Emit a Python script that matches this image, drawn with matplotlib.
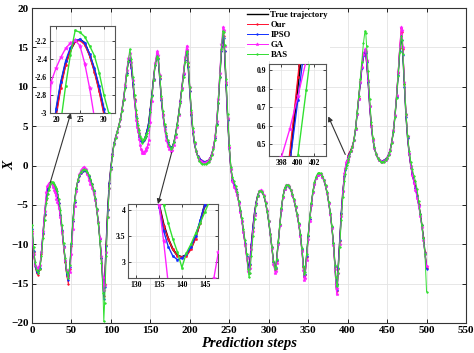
import matplotlib
matplotlib.use('Agg')
import matplotlib.pyplot as plt

plt.rcParams['font.family'] = ['Liberation Serif', 'DejaVu Serif']
plt.rcParams['font.weight'] = 'bold'

# ---------------- data ----------------
steps = [0, 2, 4, 6, 8, 10, 12, 14, 16, 18,
         19, 20, 21, 22, 23, 24, 25, 26, 27, 28, 29, 30, 31, 32,
         34, 36, 38, 40, 42, 44, 46, 48, 50, 52, 54, 56, 58, 60, 62, 64, 66, 68, 70, 72, 74, 76, 78, 80, 82, 84, 86, 88, 90,
         91, 92, 94, 96, 98, 100, 102, 104, 106, 108, 110, 112, 114, 116, 118, 120, 122, 124, 126, 128, 130, 132,
         133, 134, 135, 136, 137, 138, 139, 140, 141, 142, 143, 144, 145, 146, 147, 148,
         150, 152, 154, 156, 158, 159, 160, 162, 164, 166, 168, 170, 172, 174, 176, 178, 180, 182, 184, 186, 188, 190, 192, 194, 196, 197,
         198, 200, 202, 204, 206, 208, 210, 212, 214, 216, 218, 220, 222, 224, 226, 228, 230, 232, 234, 236, 238, 240, 242, 243,
         244, 246, 248, 250, 252, 254, 256, 258, 260, 262, 264, 266, 268, 270, 272, 274, 275,
         276, 278, 280, 282, 284, 286, 288, 290, 292, 294, 296, 298, 300, 302, 304, 306, 308, 309,
         310, 312, 314, 316, 318, 320, 322, 324, 326, 328, 330, 332, 334, 336, 338, 340, 342, 344, 345,
         346, 348, 350, 352, 354, 356, 358, 360, 362, 364, 366, 368, 370, 372, 374, 376, 378, 380, 382, 384, 385, 386, 387,
         388, 390, 392, 394, 396, 397, 398, 399, 400, 401,
         402, 404, 406, 408, 410, 412, 414, 416, 418, 420, 422, 423,
         424, 426, 428, 430, 432, 434, 436, 438, 440, 442, 444, 446, 448, 450, 452, 454, 456, 458, 460, 462, 464, 466, 468, 469,
         470, 472, 474, 476, 478, 480, 482, 484, 486, 488, 490, 492, 494, 496, 498, 500]

true_traj = [-8.0, -10.8, -12.6, -13.4, -13.6, -12.9, -11.0, -8.6, -6.2, -4.3,
             -3.5, -3.0, -2.68, -2.45, -2.3, -2.2, -2.18, -2.22, -2.35, -2.52, -2.73, -2.98, -3.3, -3.7,
             -4.8, -6.3, -8.2, -10.2, -12.0, -13.6, -14.4, -12.8, -10.0, -7.0, -4.6, -3.0, -2.0, -1.3, -0.9, -0.65, -0.6, -0.7, -0.95, -1.3, -1.8, -2.4, -3.2, -4.2, -5.5, -7.2, -9.3, -11.8, -14.8,
             -16.5, -15.0, -10.0, -5.5, -2.2, -0.2, 1.5, 2.8, 3.6, 4.3, 5.0, 5.9, 7.0, 8.4, 10.0, 11.8, 13.2, 13.6, 12.4, 10.3, 8.3, 6.4,
             5.5, 4.7, 4.1, 3.72, 3.45, 3.25, 3.13, 3.1, 3.14, 3.27, 3.48, 3.76, 4.1, 4.5, 4.95, 5.5,
             7.2, 9.0, 11.0, 12.8, 13.8, 14.0, 13.5, 11.0, 8.3, 6.4, 4.9, 3.8, 3.0, 2.5, 2.3, 2.4, 3.0, 4.0, 5.2, 6.6, 8.2, 9.9, 11.6, 13.4, 14.6, 14.2,
             12.5, 9.4, 6.4, 4.2, 2.7, 1.8, 1.2, 0.9, 0.7, 0.55, 0.5, 0.5, 0.55, 0.7, 1.0, 1.5, 2.3, 3.5, 5.3, 8.0, 11.2, 14.5, 16.5, 16.2,
             14.5, 10.2, 5.8, 2.2, -0.4, -1.8, -2.5, -3.0, -3.6, -4.6, -5.8, -7.0, -8.4, -9.9, -11.4, -12.8, -13.0,
             -12.4, -10.0, -7.8, -6.0, -4.7, -3.8, -3.3, -3.2, -3.4, -3.9, -4.7, -5.8, -7.1, -8.7, -10.4, -12.2, -13.2, -13.0,
             -12.0, -9.8, -7.5, -5.5, -4.0, -3.0, -2.55, -2.5, -2.7, -3.1, -3.7, -4.4, -5.3, -6.3, -7.4, -8.8, -10.6, -12.8, -14.0,
             -13.8, -11.5, -9.0, -6.8, -4.9, -3.4, -2.3, -1.6, -1.2, -1.05, -1.1, -1.4, -1.9, -2.6, -3.5, -4.7, -6.1, -7.8, -9.9, -12.8, -14.5, -15.8, -15.0,
             -13.0, -9.5, -6.0, -3.2, -1.3, -0.55, 0.0, 0.4, 0.82, 1.2,
             1.5, 1.9, 2.4, 3.2, 4.6, 6.5, 8.5, 10.5, 12.4, 13.9, 14.6, 14.3,
             13.2, 10.6, 7.5, 5.0, 3.3, 2.2, 1.5, 1.0, 0.75, 0.6, 0.58, 0.65, 0.8, 1.0, 1.4, 2.0, 3.0, 4.4, 6.3, 8.7, 11.5, 14.5, 16.5, 16.0,
             14.0, 10.0, 6.2, 3.5, 1.5, 0.0, -1.1, -2.0, -2.8, -3.8, -4.9, -6.1, -7.5, -9.1, -11.0, -13.0]

our_pred = [-8.3, -11.0, -12.8, -13.7, -13.9, -13.1, -11.2, -8.7, -6.3, -4.4,
            -3.6, -3.05, -2.72, -2.47, -2.3, -2.2, -2.19, -2.24, -2.36, -2.54, -2.76, -3.02, -3.33, -3.72,
            -4.8, -6.3, -8.3, -10.3, -12.2, -14.0, -15.0, -13.2, -10.2, -7.1, -4.6, -3.0, -2.0, -1.3, -0.9, -0.65, -0.6, -0.7, -0.95, -1.3, -1.8, -2.4, -3.2, -4.2, -5.5, -7.2, -9.3, -11.8, -14.9,
            -16.6, -15.1, -10.1, -5.5, -2.2, -0.2, 1.5, 2.8, 3.6, 4.3, 5.0, 5.9, 7.0, 8.4, 10.0, 11.8, 13.2, 13.6, 12.5, 10.4, 8.4, 6.5,
            5.6, 4.75, 4.1, 3.7, 3.45, 3.25, 3.12, 3.1, 3.12, 3.25, 3.45, 3.75, 4.1, 4.5, 4.95, 5.5,
            7.2, 9.0, 11.0, 12.8, 13.8, 14.0, 13.6, 11.1, 8.4, 6.5, 5.0, 3.9, 3.0, 2.5, 2.3, 2.4, 3.0, 4.0, 5.2, 6.6, 8.2, 9.9, 11.6, 13.4, 14.7, 14.3,
            12.6, 9.5, 6.5, 4.3, 2.8, 1.8, 1.2, 0.9, 0.7, 0.55, 0.5, 0.5, 0.55, 0.7, 1.0, 1.5, 2.3, 3.5, 5.3, 8.0, 11.2, 14.6, 16.8, 16.4,
            14.6, 10.3, 5.9, 2.3, -0.4, -1.8, -2.5, -3.0, -3.6, -4.6, -5.8, -7.0, -8.4, -10.0, -11.6, -13.0, -13.2,
            -12.6, -10.1, -7.9, -6.0, -4.7, -3.8, -3.3, -3.2, -3.4, -3.9, -4.7, -5.8, -7.1, -8.7, -10.4, -12.3, -13.3, -13.1,
            -12.1, -9.8, -7.5, -5.5, -4.0, -3.0, -2.55, -2.5, -2.7, -3.1, -3.7, -4.4, -5.3, -6.3, -7.4, -8.8, -10.7, -12.9, -14.1,
            -13.9, -11.6, -9.0, -6.8, -4.9, -3.4, -2.3, -1.6, -1.2, -1.05, -1.1, -1.4, -1.9, -2.6, -3.5, -4.7, -6.1, -7.8, -9.9, -12.9, -14.6, -15.9, -15.1,
            -13.1, -9.6, -6.1, -3.3, -1.3, -0.5, 0.05, 0.45, 0.86, 1.3,
            1.6, 2.0, 2.5, 3.3, 4.7, 6.6, 8.6, 10.6, 12.5, 14.0, 14.7, 14.4,
            13.3, 10.7, 7.6, 5.1, 3.4, 2.2, 1.5, 1.0, 0.75, 0.6, 0.58, 0.65, 0.8, 1.0, 1.4, 2.0, 3.0, 4.4, 6.3, 8.8, 11.7, 14.9, 17.5, 17.0,
            14.8, 10.4, 6.4, 3.6, 1.5, 0.0, -1.1, -2.0, -2.8, -3.8, -4.9, -6.1, -7.5, -9.1, -11.0, -13.0]

ipso_pred = [-8.1, -10.9, -12.7, -13.5, -13.7, -13.0, -11.0, -8.6, -6.2, -4.3,
             -3.5, -2.95, -2.65, -2.42, -2.27, -2.19, -2.18, -2.22, -2.34, -2.5, -2.7, -2.95, -3.27, -3.68,
             -4.8, -6.3, -8.2, -10.2, -12.1, -13.8, -14.6, -12.9, -10.0, -7.0, -4.6, -3.0, -2.0, -1.3, -0.9, -0.65, -0.6, -0.7, -0.95, -1.3, -1.8, -2.4, -3.2, -4.2, -5.5, -7.2, -9.3, -11.8, -15.0,
             -16.9, -15.4, -10.2, -5.6, -2.2, -0.2, 1.5, 2.8, 3.6, 4.3, 5.0, 5.9, 7.0, 8.4, 10.0, 11.8, 13.2, 13.6, 12.4, 10.3, 8.3, 6.3,
             5.4, 4.6, 4.05, 3.6, 3.3, 3.12, 3.05, 3.08, 3.15, 3.3, 3.5, 3.8, 4.1, 4.5, 4.95, 5.5,
             7.2, 9.0, 11.0, 12.8, 13.8, 14.0, 13.5, 11.0, 8.3, 6.4, 4.9, 3.8, 3.0, 2.5, 2.3, 2.4, 3.0, 4.0, 5.2, 6.6, 8.2, 9.9, 11.6, 13.4, 14.6, 14.2,
             12.5, 9.4, 6.4, 4.2, 2.7, 1.8, 1.2, 0.9, 0.7, 0.55, 0.5, 0.5, 0.55, 0.7, 1.0, 1.5, 2.3, 3.5, 5.3, 8.0, 11.2, 14.5, 16.5, 16.2,
             14.5, 10.2, 5.8, 2.2, -0.4, -1.8, -2.5, -3.0, -3.6, -4.6, -5.8, -7.0, -8.4, -9.9, -11.5, -12.9, -13.1,
             -12.5, -10.0, -7.8, -6.0, -4.7, -3.8, -3.3, -3.2, -3.4, -3.9, -4.7, -5.8, -7.1, -8.7, -10.4, -12.2, -13.2, -13.0,
             -12.0, -9.8, -7.5, -5.5, -4.0, -3.0, -2.55, -2.5, -2.7, -3.1, -3.7, -4.4, -5.3, -6.3, -7.4, -8.8, -10.6, -12.8, -14.0,
             -13.8, -11.5, -9.0, -6.8, -4.9, -3.4, -2.3, -1.6, -1.2, -1.05, -1.1, -1.4, -1.9, -2.6, -3.5, -4.7, -6.1, -7.8, -9.9, -12.8, -14.5, -15.8, -15.0,
             -13.0, -9.5, -6.0, -3.2, -1.35, -0.6, -0.05, 0.39, 0.74, 1.1,
             1.4, 1.9, 2.4, 3.2, 4.6, 6.5, 8.5, 10.5, 12.4, 13.9, 14.6, 14.3,
             13.2, 10.6, 7.5, 5.0, 3.3, 2.2, 1.5, 1.0, 0.75, 0.6, 0.58, 0.65, 0.8, 1.0, 1.4, 2.0, 3.0, 4.4, 6.3, 8.7, 11.5, 14.5, 16.5, 16.0,
             14.0, 10.0, 6.2, 3.5, 1.5, 0.0, -1.1, -2.1, -2.9, -3.9, -5.0, -6.2, -7.6, -9.2, -11.1, -13.1]

ga_pred = [-8.6, -11.2, -12.6, -13.0, -12.9, -12.6, -11.0, -8.3, -5.8, -3.4,
           -2.65, -2.5, -2.38, -2.28, -2.22, -2.19, -2.25, -2.45, -2.72, -3.05, -3.4, -3.8, -4.2, -4.6,
           -5.4, -6.6, -8.4, -10.3, -12.0, -13.3, -14.2, -13.5, -11.2, -8.0, -5.2, -3.2, -1.9, -1.1, -0.6, -0.3, -0.15, -0.4, -1.1, -1.8, -2.4, -2.8, -3.5, -4.4, -5.6, -7.2, -9.2, -11.5, -14.2,
           -15.8, -15.2, -11.0, -6.5, -2.8, -0.4, 1.3, 2.7, 3.6, 4.3, 5.0, 5.9, 7.0, 8.5, 10.2, 12.1, 13.6, 14.3, 13.2, 10.8, 8.2, 5.8,
           4.9, 4.4, 4.1, 3.4, 2.6, 2.1, 1.8, 1.65, 1.6, 1.65, 1.8, 2.0, 2.2, 2.4, 2.7, 3.2,
           5.5, 8.2, 10.8, 13.0, 14.3, 14.5, 14.0, 11.5, 8.6, 6.4, 4.6, 3.3, 2.5, 2.1, 1.9, 2.0, 2.6, 3.6, 4.9, 6.4, 8.1, 9.9, 11.8, 13.8, 15.2, 14.8,
           13.2, 10.0, 6.8, 4.4, 2.8, 1.8, 1.1, 0.75, 0.55, 0.4, 0.35, 0.4, 0.5, 0.7, 1.0, 1.5, 2.4, 3.7, 5.6, 8.4, 11.8, 15.4, 17.6, 17.2,
           15.2, 10.6, 6.0, 2.3, -0.5, -2.0, -2.7, -3.2, -3.8, -4.7, -5.9, -7.1, -8.5, -10.1, -11.8, -13.4, -13.6,
           -13.0, -10.6, -8.3, -6.3, -4.9, -3.9, -3.3, -3.1, -3.3, -3.8, -4.6, -5.7, -7.0, -8.7, -10.5, -12.5, -13.6, -13.4,
           -12.4, -10.0, -7.6, -5.6, -4.0, -3.0, -2.5, -2.45, -2.65, -3.1, -3.7, -4.4, -5.3, -6.3, -7.5, -9.0, -10.9, -13.3, -14.5,
           -14.3, -12.0, -9.3, -7.0, -5.0, -3.4, -2.3, -1.6, -1.2, -1.05, -1.1, -1.4, -1.9, -2.6, -3.5, -4.7, -6.2, -7.9, -10.1, -13.2, -15.0, -16.3, -15.6,
           -13.6, -10.0, -6.4, -3.3, -1.0, -0.3, 0.43, 0.58, 0.76, 0.95,
           1.2, 1.8, 2.4, 3.2, 4.6, 6.5, 8.5, 10.6, 12.5, 14.1, 14.8, 14.5,
           13.4, 10.8, 7.6, 5.0, 3.3, 2.2, 1.5, 1.0, 0.7, 0.55, 0.5, 0.6, 0.75, 1.0, 1.4, 2.0, 3.0, 4.5, 6.4, 8.9, 11.9, 15.2, 17.6, 17.2,
           15.0, 10.6, 6.6, 3.7, 1.6, 0.0, -1.2, -2.2, -3.1, -4.1, -5.2, -6.4, -7.8, -9.4, -11.3, -12.8]

bas_pred = [-7.6, -10.4, -12.3, -13.3, -13.6, -13.2, -11.5, -9.2, -6.9, -4.8,
            -4.1, -3.6, -3.1, -2.7, -2.35, -2.08, -2.1, -2.15, -2.25, -2.36, -2.55, -2.8, -3.0, -3.3,
            -4.2, -5.6, -7.6, -9.8, -11.8, -13.5, -14.3, -12.6, -9.8, -6.8, -4.4, -2.9, -1.9, -1.2, -0.8, -0.55, -0.5, -0.6, -0.85, -1.2, -1.7, -2.3, -3.1, -4.1, -5.5, -7.3, -9.6, -12.4, -16.2,
            -19.8, -17.5, -11.5, -6.5, -2.8, -0.5, 1.2, 2.7, 3.5, 4.3, 5.0, 5.9, 6.9, 8.3, 9.8, 11.5, 13.3, 14.8, 13.5, 11.2, 9.0, 7.0,
            6.0, 5.1, 4.5, 4.1, 3.75, 3.45, 3.2, 2.9, 3.18, 3.35, 3.55, 3.75, 3.95, 4.15, 4.5, 5.0,
            6.8, 8.8, 10.9, 12.7, 13.6, 13.9, 13.6, 11.4, 8.8, 6.9, 5.3, 4.1, 3.2, 2.6, 2.1, 2.3, 3.0, 4.0, 5.2, 6.5, 8.0, 9.6, 11.3, 13.2, 14.5, 14.4,
            13.0, 10.0, 7.0, 4.7, 3.0, 1.9, 1.1, 0.6, 0.3, 0.2, 0.15, 0.2, 0.3, 0.5, 0.8, 1.3, 2.1, 3.3, 5.1, 7.9, 11.2, 14.8, 17.1, 16.9,
            15.3, 11.0, 6.5, 2.6, -0.2, -1.4, -2.0, -2.6, -3.4, -4.5, -5.6, -6.7, -8.0, -9.5, -11.2, -13.2, -14.2,
            -13.6, -11.5, -9.0, -6.8, -5.0, -3.9, -3.3, -3.2, -3.4, -3.9, -4.7, -5.8, -7.1, -8.7, -10.3, -12.1, -13.1, -12.9,
            -11.9, -9.7, -7.4, -5.4, -3.9, -2.9, -2.5, -2.45, -2.65, -3.05, -3.6, -4.3, -5.2, -6.2, -7.3, -8.7, -10.5, -12.7, -13.8,
            -13.5, -11.2, -8.8, -6.6, -4.7, -3.2, -2.1, -1.4, -1.0, -0.9, -1.0, -1.3, -1.8, -2.5, -3.4, -4.6, -6.0, -7.7, -9.8, -12.6, -14.2, -15.3, -15.2,
            -13.6, -10.3, -6.9, -4.0, -2.0, -1.1, -0.3, 0.05, 0.44, 0.79,
            1.15, 1.8, 2.4, 3.2, 4.7, 6.7, 8.8, 11.0, 13.2, 15.5, 17.1, 16.8,
            15.2, 12.0, 8.4, 5.5, 3.5, 2.3, 1.5, 1.0, 0.7, 0.5, 0.45, 0.5, 0.7, 0.9, 1.3, 1.9, 2.9, 4.3, 6.2, 8.6, 11.4, 14.4, 16.4, 16.0,
            14.2, 10.3, 6.5, 3.8, 1.9, 0.5, -0.5, -1.3, -2.0, -3.0, -4.5, -6.2, -7.6, -9.2, -11.2, -16.0]

labels = ['True trajectory', 'Our', 'IPSO', 'GA', 'BAS']
x_ticks = list(range(0, 551, 50))
y_ticks = list(range(-20, 21, 5))

# ---------------- figure ----------------
W, H = 474, 353
fig = plt.figure(figsize=(W / 100, H / 100), dpi=100)
fig.patch.set_facecolor('white')

def px_axes(left, top, right, bottom):
    return fig.add_axes([left / W, 1 - bottom / H, (right - left) / W, (bottom - top) / H])

ax = px_axes(32, 8, 466, 323)

series = [true_traj, our_pred, ipso_pred, ga_pred, bas_pred]
colors = ['#000000', '#ff1030', '#1030ff', '#ff20ff', '#30e030']
markers = [None, '.', '.', '*', '.']

def draw(a, lw_scale=1.0, ms_scale=1.0):
    hs = []
    for vals, c, m, lab in zip(series, colors, markers, labels):
        if m is None:
            h, = a.plot(steps, vals, color=c, lw=1.0 * lw_scale, label=lab, zorder=2)
        else:
            h, = a.plot(steps, vals, color=c, lw=0.7 * lw_scale, marker=m,
                        ms=2.4 * ms_scale, mew=0.4, label=lab, zorder=3)
        hs.append(h)
    return hs

handles = draw(ax)
ax.set_xlim(0, 550)
ax.set_ylim(-20, 20)
ax.set_xticks(x_ticks)
ax.set_yticks(y_ticks)
ax.grid(True, color='#e3e3e3', lw=0.6)
ax.set_axisbelow(True)
ax.tick_params(direction='in', length=3, width=0.6, top=True, right=True,
               labelsize=8, pad=2.5)
for lab in ax.get_xticklabels() + ax.get_yticklabels():
    lab.set_fontweight('bold')
for s in ax.spines.values():
    s.set_linewidth(0.8)
    s.set_color('#333333')
ax.set_xlabel('Prediction steps', fontsize=10.5, fontweight='bold', style='italic', labelpad=1)
ax.set_ylabel('X', fontsize=10, fontweight='bold', style='italic', rotation=90)
ax.yaxis.set_label_coords((16 - 32) / 434, 0.5)

leg = ax.legend(handles=handles, loc='upper left', bbox_to_anchor=((245 - 32) / 434, 0.995),
                frameon=True, framealpha=1, edgecolor='none', facecolor='white',
                handlelength=2.4, handletextpad=0.3, labelspacing=0.2, borderpad=0.2,
                borderaxespad=0.0, prop={'weight': 'bold', 'size': 6.3})

# ---------------- insets ----------------
def make_inset(left, top, right, bottom, xlim, ylim, xt, yt, ytl=None):
    ia = px_axes(left, top, right, bottom)
    ia.set_facecolor('white')
    draw(ia, lw_scale=1.4, ms_scale=1.3)
    ia.set_xlim(*xlim)
    ia.set_ylim(*ylim)
    ia.set_xticks(xt)
    ia.set_yticks(yt)
    if ytl is not None:
        ia.set_yticklabels(ytl)
    ia.grid(True, color='#e3e3e3', lw=0.5)
    ia.set_axisbelow(True)
    ia.tick_params(direction='in', length=2, width=0.5, top=True, right=True,
                   labelsize=5.5, pad=2)
    for s in ia.spines.values():
        s.set_linewidth(0.8)
        s.set_color('#555555')
    ia.set_zorder(5)
    return ia

in1 = make_inset(50, 26, 115, 113, (18.75, 32.3), (-3.0, -2.03), [20, 25, 30],
                 [-3, -2.8, -2.6, -2.4, -2.2], ['-3', '-2.8', '-2.6', '-2.4', '-2.2'])
in2 = make_inset(128, 204, 218, 278, (128.2, 147.9), (2.7, 4.11), [130, 135, 140, 145],
                 [3, 3.5, 4], ['3', '3.5', '4'])
in3 = make_inset(269, 64, 326, 156, (396.5, 403.4), (0.437, 0.932), [398, 400, 402],
                 [0.5, 0.6, 0.7, 0.8, 0.9])

arrow_kw = dict(arrowstyle='-|>', color='#333333', lw=0.8, mutation_scale=7,
                shrinkA=0, shrinkB=0)
ax.annotate('', xy=(0.32, 0.0), xycoords=in1.transAxes, xytext=(23, -2.2),
            textcoords='data', arrowprops=arrow_kw, zorder=6)
ax.annotate('', xy=(0.333, 1.0), xycoords=in2.transAxes, xytext=(177, 1.65),
            textcoords='data', arrowprops=arrow_kw, zorder=6)
ax.annotate('', xy=(1.04, 0.43), xycoords=in3.transAxes, xytext=(397, 1.4),
            textcoords='data', arrowprops=arrow_kw, zorder=6)

fig.savefig('out.png', dpi=100)
